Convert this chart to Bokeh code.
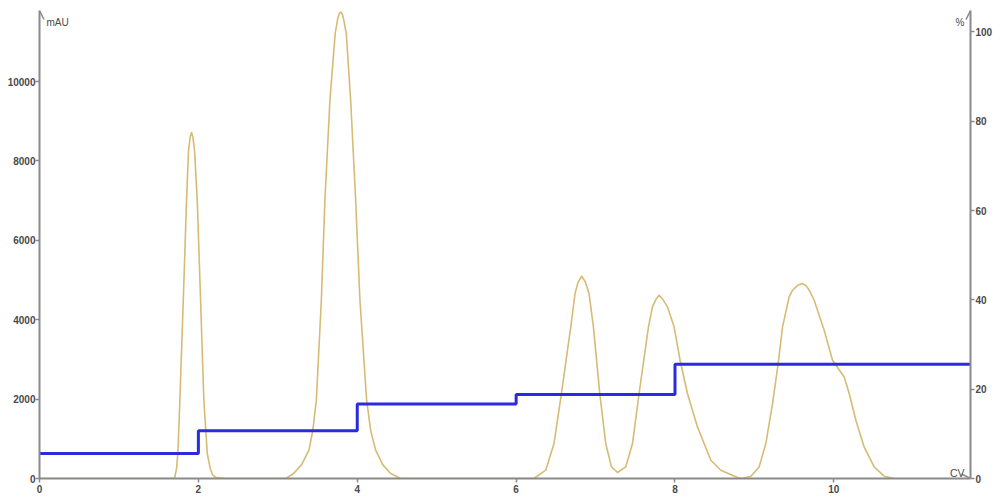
from bokeh.plotting import figure
from bokeh.models import Range1d, LinearAxis, Arrow, OpenHead, Label, FixedTicker
from bokeh.embed import file_html
from bokeh.resources import INLINE

# ---- data ----
cv = [0.0, 1.60, 1.70, 1.725, 1.742, 1.767, 1.81, 1.851, 1.876, 1.897, 1.914, 1.931, 1.952, 1.986, 2.028,
      2.069, 2.112, 2.15, 2.18, 2.217, 2.34,
      3.10, 3.199, 3.30, 3.392, 3.44, 3.485, 3.548, 3.593, 3.656, 3.722, 3.752, 3.771, 3.791, 3.811, 3.830,
      3.862, 3.917, 3.98, 4.034, 4.118, 4.17, 4.232, 4.32, 4.421, 4.547,
      6.225, 6.373, 6.477, 6.57, 6.688, 6.742, 6.781, 6.826, 6.871, 6.918, 6.973, 7.053, 7.128, 7.2, 7.276,
      7.38, 7.465, 7.548, 7.666, 7.717, 7.765, 7.80, 7.84, 7.906, 7.989, 8.064, 8.157, 8.283, 8.451, 8.577,
      8.787, 8.84,
      8.955, 9.059, 9.144, 9.228, 9.299, 9.354, 9.437, 9.48, 9.54, 9.60, 9.65, 9.69, 9.752, 9.878, 9.983,
      10.13, 10.193, 10.277, 10.381, 10.507, 10.633, 10.76]
mau = [0, 0, 0, 250, 630, 1965, 4484, 7000, 8260, 8600, 8715, 8600, 8260, 7000, 4484,
       1965, 630, 250, 90, 30, 0,
       0, 126, 350, 713, 1200, 1972, 4491, 7010, 9530, 11209, 11560, 11700, 11750, 11700, 11560,
       11209, 9530, 7010, 4491, 1972, 1200, 713, 350, 126, 0,
       0, 209, 882, 2141, 3819, 4660, 4950, 5096, 4950, 4660, 3819, 2141, 882, 292, 151,
       292, 882, 2141, 3819, 4322, 4530, 4617, 4530, 4322, 3819, 2980, 2141, 1300, 461, 209,
       25, 0,
       58, 292, 882, 1889, 2897, 3819, 4574, 4743, 4860, 4912, 4860, 4743, 4491, 3736, 2980,
       2559, 2141, 1469, 796, 292, 58, 0]

step_cv = [0, 2, 4, 6, 8, 11.72]
step_pct = [5.6, 10.7, 16.7, 18.8, 25.6, 25.6]

x_ticks = [0, 2, 4, 6, 8, 10]
left_ticks = [0, 2000, 4000, 6000, 8000, 10000]
right_ticks = [0, 20, 40, 60, 80, 100]

X_END = 11.72
Y_END = 11790
PCT_END = 104.8

AXIS_COLOR = "#8a8a8a"
TEXT_COLOR = "#4a4a4a"
FONT = "Liberation Sans"

p = figure(width=1000, height=499, output_backend="svg", toolbar_location=None,
           x_range=Range1d(0, X_END), y_range=Range1d(0, Y_END),
           min_border_left=39, min_border_right=30, min_border_top=10, min_border_bottom=21)
p.extra_y_ranges = {"pct": Range1d(0, PCT_END)}
p.outline_line_color = None
p.grid.visible = False
p.background_fill_color = "white"

right_axis = LinearAxis(y_range_name="pct")
p.add_layout(right_axis, "right")

p.xaxis.ticker = FixedTicker(ticks=x_ticks)
p.yaxis[0].ticker = FixedTicker(ticks=left_ticks)
right_axis.ticker = FixedTicker(ticks=right_ticks)

for ax in [p.xaxis[0], p.yaxis[0], right_axis]:
    ax.axis_line_color = AXIS_COLOR
    ax.axis_line_width = 2
    ax.major_tick_line_color = AXIS_COLOR
    ax.major_tick_line_width = 1.5
    ax.major_tick_in = 0
    ax.major_tick_out = 4
    ax.minor_tick_line_color = None
    ax.major_label_text_font = FONT
    ax.major_label_text_font_style = "bold"
    ax.major_label_text_font_size = "10px"
    ax.major_label_text_color = TEXT_COLOR
p.yaxis[0].major_label_standoff = 0
right_axis.major_label_standoff = 1
p.xaxis[0].major_label_standoff = 2

p.line(cv, mau, line_color="#d6bb74", line_width=1.6, line_join="round")
p.step(step_cv, step_pct, mode="after", y_range_name="pct", line_color="#2a2ade", line_width=3)

# axis arrow heads
p.add_layout(Arrow(end=OpenHead(size=9, line_color=AXIS_COLOR, line_width=1.5),
                   x_start=0, y_start=Y_END * 0.97, x_end=0, y_end=Y_END, line_alpha=0))
p.add_layout(Arrow(end=OpenHead(size=9, line_color=AXIS_COLOR, line_width=1.5),
                   x_start=X_END, y_start=PCT_END * 0.97, x_end=X_END, y_end=PCT_END,
                   y_range_name="pct", line_alpha=0))
p.add_layout(Arrow(end=OpenHead(size=9, line_color=AXIS_COLOR, line_width=1.5),
                   x_start=X_END * 0.98, y_start=0, x_end=X_END, y_end=0, line_alpha=0))

# unit labels
p.add_layout(Label(x=0, y=Y_END, x_offset=7, y_offset=-11.5, text="mAU", text_baseline="middle",
                   text_font=FONT, text_font_size="10px", text_color=TEXT_COLOR))
p.add_layout(Label(x=X_END, y=PCT_END, x_offset=-6, y_offset=-11.5, text="%", y_range_name="pct",
                   text_align="right", text_baseline="middle",
                   text_font=FONT, text_font_size="10px", text_color=TEXT_COLOR))
p.add_layout(Label(x=X_END, y=0, x_offset=-6, y_offset=6, text="CV",
                   text_align="right", text_baseline="alphabetic",
                   text_font=FONT, text_font_size="10.5px", text_color=TEXT_COLOR))

open("out.html", "w").write(file_html(p, INLINE))
